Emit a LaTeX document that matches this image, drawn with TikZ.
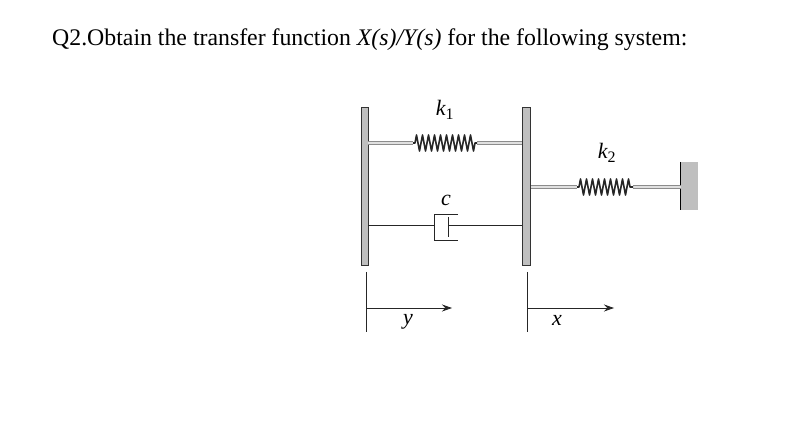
\documentclass[tikz,border=0pt]{standalone}
\usepackage{fontspec}
\setmainfont{Liberation Serif}
\usetikzlibrary{decorations.pathmorphing,arrows.meta}
\begin{document}
\begin{tikzpicture}[x=1pt,y=-1pt,
  bar/.style={draw=black!80,fill=black!25,line width=0.8pt},
  rod/.style={draw=black!45,double=black!12,double distance=2pt,line width=0.6pt},
  coilst/.style={decorate,decoration={zigzag,segment length=6pt,amplitude=8pt,pre length=2pt,post length=2pt},line width=1.6pt,black!85,line join=round},
  thin/.style={line width=0.8pt,black!85},
  lbl/.style={font=\itshape\fontsize{22}{22}\selectfont,inner sep=0pt}]
\useasboundingbox (0,0) rectangle (808,427);
\node[anchor=west,font=\fontsize{23.8}{24}\selectfont,inner sep=0pt] (title) at (52,40) {Q2.Obtain the transfer function \textit{X(s)/Y(s)} for the following system:};
\node[bar,minimum width=7pt,minimum height=158pt,inner sep=0pt] (m1) at (364.5,186) {};
\node[bar,minimum width=8pt,minimum height=158pt,inner sep=0pt] (m2) at (526.5,186) {};
\node[fill=black!25,minimum width=17pt,minimum height=48pt,inner sep=0pt] (wall) at (689.5,186) {};
\draw[line width=1pt] (wall.north west) -- (wall.south west);
% k1
\coordinate (a1) at (413,143); \coordinate (b1) at (477,143);
\draw[rod] (m1.east |- a1) -- (a1);
\draw[rod] (b1) -- (m2.west |- b1);
\draw[coilst] (a1) -- (b1);
\node[lbl] (k1) at (445,110) {k\textsubscript{\upshape\fontsize{16}{16}\selectfont 1}};
% k2
\coordinate (a2) at (577,187); \coordinate (b2) at (633,187);
\draw[rod] (m2.east |- a2) -- (a2);
\draw[rod] (b2) -- (wall.west |- b2);
\draw[coilst] (a2) -- (b2);
\node[lbl] (k2) at (607,153) {k\textsubscript{\upshape\fontsize{16}{16}\selectfont 2}};
% damper
\coordinate (d1) at (434,225); \coordinate (d2) at (448,225);
\draw[thin] (m1.east |- d1) -- (d1);
\draw[thin] (458,214) -- (434,214) -- (434,240) -- (458,240);
\draw[thin] (448,217) -- (448,237);
\draw[thin] (d2) -- (m2.west |- d2);
\node[lbl] (c) at (446,200) {c};
% displacement arrows
\coordinate (y0) at (366,272); \coordinate (y1) at (366,332);
\coordinate (ya) at (366,308); \coordinate (yb) at (452,308);
\draw[thin] (y0) -- (y1);
\draw[thin,-{Stealth[length=10pt,width=7pt]}] (ya) -- (yb);
\node[lbl] (ylab) at (408,322) {y};
\coordinate (x0) at (527,272); \coordinate (x1) at (527,332);
\coordinate (xa) at (527,308); \coordinate (xb) at (614,308);
\draw[thin] (x0) -- (x1);
\draw[thin,-{Stealth[length=10pt,width=7pt]}] (xa) -- (xb);
\node[lbl] (xlab) at (557,320) {x};
\end{tikzpicture}
\end{document}
